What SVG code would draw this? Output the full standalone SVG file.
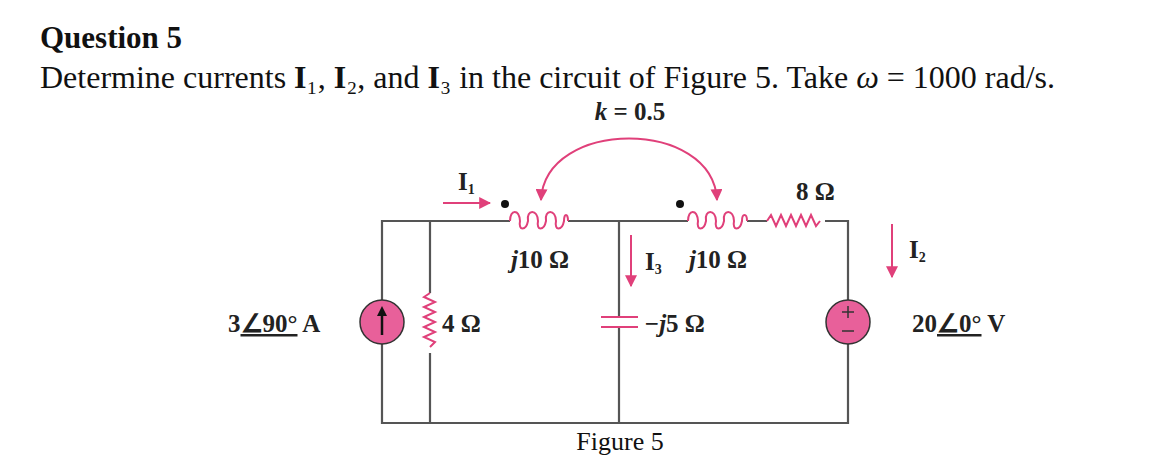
<svg xmlns="http://www.w3.org/2000/svg" width="1171" height="459" viewBox="0 0 1171 459">
<defs>
<style>
.w{stroke:#555;stroke-width:2.2;fill:none}
.p{stroke:#e0407a;stroke-width:2;fill:none}
.t{font-family:"Liberation Serif",serif;font-size:25px;font-weight:bold;fill:#222}
.h{font-family:"Liberation Serif",serif;fill:#111}
</style>
<marker id="a" viewBox="0 0 10 10" refX="9" refY="5" markerWidth="7" markerHeight="7" markerUnits="userSpaceOnUse" orient="auto-start-reverse"><path d="M0,0L10,5L0,10z" fill="#e0407a"/></marker>
<marker id="b" viewBox="0 0 10 10" refX="9" refY="5" markerWidth="12" markerHeight="12" markerUnits="userSpaceOnUse" orient="auto-start-reverse"><path d="M0,0L10,5L0,10z" fill="#e0407a"/></marker>
</defs>
<rect width="1171" height="459" fill="#fff"/>
<text class="h" x="40" y="48" font-size="31" font-weight="bold">Question 5</text>
<text class="h" x="40" y="88" font-size="32">Determine currents <tspan font-weight="bold">I</tspan>₁, <tspan font-weight="bold">I</tspan>₂, and <tspan font-weight="bold">I</tspan>₃ in the circuit of Figure 5. Take <tspan font-style="italic">ω</tspan> = 1000 rad/s.</text>
<text class="t" x="630" y="120" text-anchor="middle" font-size="22"><tspan font-style="italic">k</tspan> = 0.5</text>
<g id="connectors">
<path class="w" d="M510,221H382V300M382,344V423H848V344M848,300V221H825M767,221H747M688,221H568M619,221V317M619,327V423M430,221V293M430,353V423"/>
</g>
<g id="L1"><path class="p" d="M510,221c0,-12 9,-12 10,0c-2,10 6,10 8,0c-2,-12 10,-12 10,0c-2,10 6,10 8,0c-2,-12 10,-12 10,0c-2,10 6,10 8,0c0,-8 4,-8 4,0"/><circle cx="505" cy="204" r="4" fill="#111"/><text class="t" x="540" y="268" text-anchor="middle"><tspan font-style="italic">j</tspan>10 Ω</text></g>
<g id="L2"><path class="p" d="M688,221c0,-12 9,-12 10,0c-2,10 6,10 8,0c-2,-12 10,-12 10,0c-2,10 6,10 8,0c-2,-12 10,-12 10,0c-2,10 6,10 8,0c0,-8 5,-8 5,0"/><circle cx="680" cy="204" r="4" fill="#111"/><text class="t" x="718" y="268" text-anchor="middle"><tspan font-style="italic">j</tspan>10 Ω</text></g>
<g id="coupling"><path class="p" d="M541,200C545,118 713,118 717,200" stroke-width="2.5" marker-start="url(#b)" marker-end="url(#b)"/></g>
<g id="R8"><path class="p" d="M767,221l4,-6l5,11l5,-11l5,11l5,-11l5,11l5,-11l5,11l5,-11l5,11l4,-5"/><text class="t" x="796" y="200">8 Ω</text></g>
<g id="R4"><path class="p" d="M430,293l-6,4l11,5l-11,5l11,5l-11,5l11,5l-11,5l11,5l-11,5l11,5l-5,5"/><text class="t" x="442" y="332">4 Ω</text></g>
<g id="C"><path class="p" d="M601,317H638M601,327H638"/><text class="t" x="644" y="332"><tspan font-style="italic">−j</tspan>5 Ω</text></g>
<g id="Is"><circle cx="382" cy="322" r="22" fill="#e8609a" stroke="#333" stroke-width="1.5"/><path d="M382,335V313" stroke="#111" stroke-width="2.5"/><path d="M377,316L382,306L387,316z" fill="#111"/><text class="t" x="228" y="332">3<tspan text-decoration="underline">∠90°</tspan>  A</text></g>
<g id="Vs"><circle cx="848" cy="322" r="22" fill="#e8609a" stroke="#333" stroke-width="1.5"/><path d="M842,312h12M848,306v12M842,331h12" stroke="#333" stroke-width="1.5"/><text class="t" x="912" y="332">20<tspan text-decoration="underline">∠0°</tspan>  V</text></g>
<g id="I1"><path class="p" d="M443,203H490" marker-end="url(#b)" stroke-width="2.5"/><text class="t" x="458" y="190">I<tspan font-size="14" dy="4">1</tspan></text></g>
<g id="I3"><path class="p" d="M631,235V286" marker-end="url(#b)" stroke-width="2.5"/><text class="t" x="645" y="270">I<tspan font-size="14" dy="4">3</tspan></text></g>
<g id="I2"><path class="p" d="M892,224V277" marker-end="url(#b)" stroke-width="2.5"/><text class="t" x="909" y="258">I<tspan font-size="14" dy="4">2</tspan></text></g>
<text class="h" x="620" y="450" font-size="26" text-anchor="middle">Figure 5</text>
</svg>
